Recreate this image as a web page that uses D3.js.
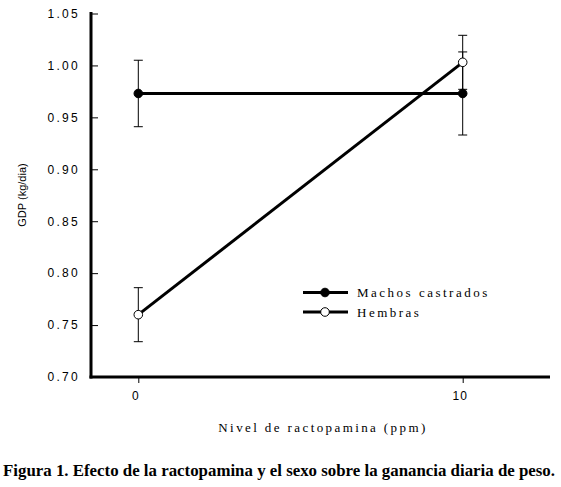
<!DOCTYPE html>
<html>
<head>
<meta charset="utf-8">
<script src="https://cdn.jsdelivr.net/npm/d3@7"></script>
<style>
body { margin:0; background:#fff; }
svg text { fill:#000; }
</style>
</head>
<body>
<div id="chart"></div>
<script>
var width = 561, height = 487;
var margin = {top:13.5, left:91, right:11, bottom:110};

// data
var doses = [0, 10];
var seriesNames = ["Machos castrados", "Hembras"];
var machosMean = [0.973, 0.973];
var machosErr = [0.032, 0.040];
var hembrasMean = [0.760, 1.003];
var hembrasErr = [0.026, 0.026];
var yTicks = [0.70, 0.75, 0.80, 0.85, 0.90, 0.95, 1.00, 1.05];
var xTicks = [0, 10];

var series = [
    {name: seriesNames[0], mean: machosMean, err: machosErr, fill: "#000"},
    {name: seriesNames[1], mean: hembrasMean, err: hembrasErr, fill: "#fff"}
];

var svg = d3.select("#chart").append("svg")
    .attr("width", width)
    .attr("height", height);

//scales
var xScale = d3.scaleLinear().domain([0, 10]).range([138.3, 462.7]);
var yScale = d3.scaleLinear().domain([0.70, 1.05]).range([377, 13.5]);

//y axis (ticks point inward)
var yAxis = d3.axisRight(yScale).tickValues(yTicks).tickSize(7).tickFormat(d3.format(".2f"));
var gy = svg.append("g").attr("transform", "translate(" + margin.left + ",0)").call(yAxis);
gy.select(".domain").remove();
gy.selectAll(".tick line").attr("stroke", "#000").attr("stroke-width", 1);
gy.selectAll(".tick text")
    .attr("x", -11)
    .attr("dy", "0.32em")
    .style("text-anchor", "end")
    .style("font-family", "Liberation Sans, Arial, sans-serif")
    .style("font-size", "12px")
    .style("letter-spacing", "2.3px");

//x axis
var xAxis = d3.axisBottom(xScale).tickValues(xTicks).tickSize(6);
var gx = svg.append("g").attr("transform", "translate(0,377)").call(xAxis);
gx.select(".domain").remove();
gx.selectAll(".tick line").attr("stroke", "#000").attr("stroke-width", 1);
gx.selectAll(".tick text")
    .attr("y", 14)
    .attr("x", -3)
    .attr("dy", "0.71em")
    .style("font-family", "Liberation Sans, Arial, sans-serif")
    .style("font-size", "12px")
    .style("letter-spacing", "1px");

//thick axis lines
svg.append("line").attr("x1", margin.left).attr("x2", margin.left)
    .attr("y1", 12).attr("y2", 378.5)
    .attr("stroke", "#000").attr("stroke-width", 3);
svg.append("line").attr("x1", margin.left - 1.5).attr("x2", 550)
    .attr("y1", 377).attr("y2", 377)
    .attr("stroke", "#000").attr("stroke-width", 3);

//series: error bars, lines, markers
var line = d3.line()
    .x(function(d, i){ return xScale(doses[i]); })
    .y(function(d){ return yScale(d); });

series.forEach(function(s){
    var g = svg.append("g");
    doses.forEach(function(x, i){
        var cx = xScale(x);
        var top = yScale(s.mean[i] + s.err[i]), bot = yScale(s.mean[i] - s.err[i]);
        g.append("line").attr("x1", cx).attr("x2", cx).attr("y1", top).attr("y2", bot)
            .attr("stroke", "#000").attr("stroke-width", 1);
        [top, bot].forEach(function(y){
            g.append("line").attr("x1", cx - 4.5).attr("x2", cx + 4.5).attr("y1", y).attr("y2", y)
                .attr("stroke", "#000").attr("stroke-width", 1);
        });
    });
});

series.forEach(function(s){
    svg.append("path").datum(s.mean)
        .attr("d", line)
        .attr("fill", "none")
        .attr("stroke", "#000")
        .attr("stroke-width", 3);
});

series.forEach(function(s){
    svg.selectAll(null).data(s.mean).enter()
        .append("circle")
        .attr("cx", function(d, i){ return xScale(doses[i]); })
        .attr("cy", function(d){ return yScale(d); })
        .attr("r", 4.3)
        .attr("fill", s.fill)
        .attr("stroke", "#000")
        .attr("stroke-width", 1);
});

//legend
var legend = svg.append("g");
series.forEach(function(s, i){
    var y = 292.5 + i * 19.5;
    legend.append("line").attr("x1", 303).attr("x2", 348).attr("y1", y).attr("y2", y)
        .attr("stroke", "#000").attr("stroke-width", 3);
    legend.append("circle").attr("cx", 325).attr("cy", y).attr("r", 4.3)
        .attr("fill", s.fill).attr("stroke", "#000").attr("stroke-width", 1);
    legend.append("text").attr("x", 357).attr("y", y + 4.5)
        .style("font-family", "Liberation Serif, Times New Roman, serif")
        .style("font-size", "13px")
        .style("letter-spacing", "2.5px")
        .text(s.name);
});

//axis titles
svg.append("text")
    .attr("transform", "translate(26,195) rotate(-90)")
    .style("text-anchor", "middle")
    .style("font-family", "Liberation Sans, Arial, sans-serif")
    .style("font-size", "11px")
    .text("GDP (kg/dia)");

svg.append("text")
    .attr("x", 323).attr("y", 432)
    .style("text-anchor", "middle")
    .style("font-family", "Liberation Serif, Times New Roman, serif")
    .style("font-size", "13px")
    .style("letter-spacing", "2.4px")
    .text("Nivel de ractopamina (ppm)");

//caption
svg.append("text")
    .attr("x", 3).attr("y", 476)
    .attr("textLength", 552)
    .attr("lengthAdjust", "spacingAndGlyphs")
    .style("font-family", "Liberation Serif, Times New Roman, serif")
    .style("font-size", "16px")
    .style("font-weight", "bold")
    .text("Figura 1. Efecto de la ractopamina y el sexo sobre la ganancia diaria de peso.");
</script>
</body>
</html>
